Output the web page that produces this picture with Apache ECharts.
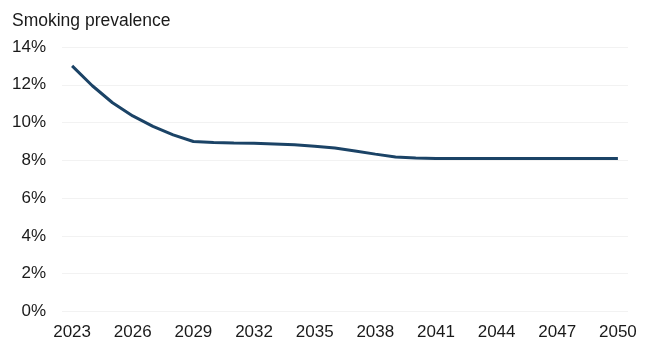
<!DOCTYPE html>
<html>
<head>
<meta charset="utf-8">
<script src="https://cdn.jsdelivr.net/npm/echarts@6/dist/echarts.min.js"></script>
<style>html,body{margin:0;padding:0;background:#fff}#c{width:645px;height:355px}</style>
</head>
<body>
<div id="c"></div>
<script>
const years = ['2023','2024','2025','2026','2027','2028','2029','2030','2031','2032','2033','2034','2035','2036','2037','2038','2039','2040','2041','2042','2043','2044','2045','2046','2047','2048','2049','2050'];
const prevalence = [13.0,11.95,11.05,10.35,9.8,9.35,9.0,8.95,8.92,8.9,8.87,8.82,8.75,8.65,8.5,8.33,8.18,8.13,8.1,8.1,8.1,8.1,8.1,8.1,8.1,8.1,8.1,8.1];
const title = 'Smoking prevalence';

const chart = echarts.init(document.getElementById('c'), null, {renderer:'canvas'});
const font = 'Liberation Sans, Arial, sans-serif';
chart.setOption({
  animation:false,
  title:{text:title,left:12,top:12,padding:0,textStyle:{fontFamily:font,fontSize:17.5,fontWeight:'normal',color:'#1a1a1a'}},
  grid:{left:62,right:17,top:47,bottom:43.5,containLabel:false},
  xAxis:{type:'category',data:years,boundaryGap:true,
    axisLine:{show:false},axisTick:{show:false},
    axisLabel:{interval:2,margin:12,fontFamily:font,fontSize:17,color:'#1a1a1a'}},
  yAxis:{type:'value',min:0,max:14,interval:2,
    axisLine:{show:false},axisTick:{show:false},
    splitLine:{lineStyle:{color:'#f2f2f2',width:1}},
    axisLabel:{formatter:'{value}%',margin:16,fontFamily:font,fontSize:17,color:'#1a1a1a'}},
  series:[{type:'line',data:prevalence,showSymbol:false,smooth:false,
    lineStyle:{color:'#1b4366',width:3}}]
});
</script>
</body>
</html>
